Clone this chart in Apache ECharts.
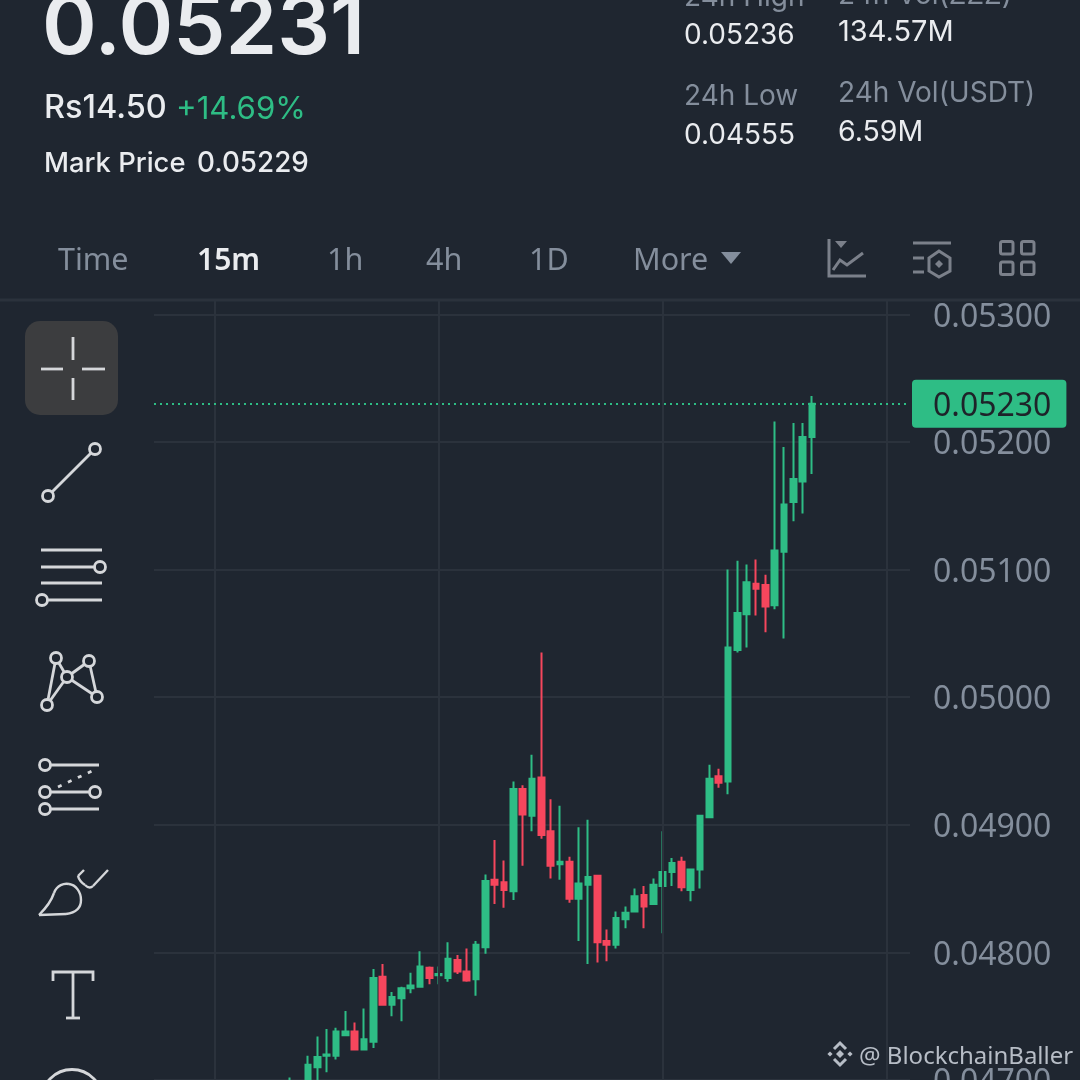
<!DOCTYPE html>
<html><head><meta charset="utf-8">
<style>html,body{margin:0;padding:0;background:#1f2630}#c{width:1080px;height:1080px}</style>
<script src="https://cdn.jsdelivr.net/npm/echarts@6/dist/echarts.min.js"></script></head>
<body><div id="c"></div>
<script>
const lastPrice = 0.05230;
const yTicks = [0.047, 0.053];
const gridSlots = [6, 30, 54, 78];
const leadingEmptySlots = 14;
const trailingEmptySlots = 10;
const opens  = [0.04688,0.04690,0.04691,0.04710,0.04719,0.04719,0.04735,0.04738,0.04724,0.04730,0.04781,0.04759,0.04764,0.04772,0.04773,0.04788,0.04782,0.04780,0.04794,0.04785,0.04779,0.04804,0.04857,0.04855,0.04848,0.04928,0.04907,0.04937,0.04895,0.04869,0.04871,0.04842,0.04853,0.04860,0.04809,0.04806,0.04826,0.04832,0.04845,0.04838,0.04852,0.04863,0.04871,0.04849,0.04865,0.04906,0.04938,0.04934,0.05037,0.05065,0.05089,0.05088,0.05072,0.05114,0.05153,0.05169,0.05204];
const closes = [0.04692,0.04696,0.04712,0.04718,0.04720,0.04738,0.04738,0.04724,0.04732,0.04780,0.04759,0.04765,0.04772,0.04774,0.04789,0.04780,0.04783,0.04795,0.04785,0.04778,0.04806,0.04856,0.04853,0.04849,0.04928,0.04908,0.04936,0.04892,0.04868,0.04871,0.04842,0.04854,0.04859,0.04808,0.04806,0.04827,0.04831,0.04844,0.04836,0.04853,0.04863,0.04870,0.04851,0.04865,0.04907,0.04936,0.04933,0.05039,0.05066,0.05090,0.05085,0.05071,0.05115,0.05151,0.05171,0.05204,0.05230];
const lows   = [0.04685,0.04686,0.04684,0.04698,0.04706,0.04716,0.04735,0.04724,0.04724,0.04725,0.04759,0.04750,0.04746,0.04768,0.04773,0.04775,0.04775,0.04777,0.04783,0.04777,0.04766,0.04799,0.04838,0.04835,0.04841,0.04868,0.04895,0.04889,0.04858,0.04857,0.04839,0.04809,0.04791,0.04792,0.04793,0.04803,0.04819,0.04832,0.04819,0.04838,0.04815,0.04852,0.04848,0.04840,0.04850,0.04906,0.04929,0.04924,0.05035,0.05039,0.05064,0.05051,0.05069,0.05046,0.05138,0.05144,0.05175];
const highs  = [0.04702,0.04699,0.04719,0.04734,0.04740,0.04741,0.04754,0.04745,0.04756,0.04787,0.04791,0.04769,0.04773,0.04784,0.04801,0.04789,0.04789,0.04808,0.04798,0.04803,0.04809,0.04861,0.04888,0.04872,0.04934,0.04931,0.04955,0.05035,0.04920,0.04915,0.04875,0.04898,0.04904,0.04860,0.04818,0.04832,0.04836,0.04850,0.04852,0.04858,0.04895,0.04874,0.04875,0.04865,0.04907,0.04947,0.04944,0.05100,0.05107,0.05104,0.05108,0.05096,0.05216,0.05196,0.05215,0.05215,0.05236];
const headline = {price:"0.05231", fiat:"Rs14.50", change:"+14.69%", markLabel:"Mark Price", mark:"0.05229"};
const stats = [["24h High","0.05236",684,7,45,28],["24h Vol(ZZZ)","134.57M",838,5,42,29],["24h Low","0.04555",684,106,145,28],["24h Vol(USDT)","6.59M",838,103,142,28.5]];
const tabs = [["Time",58],["15m",197],["1h",327],["4h",426],["1D",529],["More",633]];

const BG='#1f2630',LINE='#2b323c',UP='#2ebd85',DOWN='#f6465d',GREY='#848e9c',WHITE='#eaecef',ICON='#d5d7da',ICON2='#7b808a';
const SANS='"Noto Sans"', HEAD='Inter';

const rows = opens.map((o,i)=>[o,closes[i],lows[i],highs[i]]);
const blank = n => Array.from({length:n},()=>'-');
const candleData = blank(leadingEmptySlots).concat(rows, blank(trailingEmptySlots));
const closeLine = blank(leadingEmptySlots).concat(closes, blank(trailingEmptySlots));
const categories = candleData.map((_,i)=>String(i));

const txt=(t,x,y,size,fill,weight,family)=>({type:'text',silent:true,z:20,style:{text:t,x,y,fontSize:size,fill,fontWeight:weight||400,fontFamily:family||HEAD,textAlign:'left',textVerticalAlign:'bottom'}});
const stroke=(c,w)=>({stroke:c,lineWidth:w,fill:null,lineCap:'butt'});
const ln=(x1,y1,x2,y2,c=ICON,w=2.8,extra={})=>({type:'line',silent:true,z:20,shape:{x1,y1,x2,y2},style:Object.assign(stroke(c,w),extra)});
const circ=(cx,cy,r=5.5,c=ICON)=>({type:'circle',silent:true,z:21,shape:{cx,cy,r},style:{stroke:c,lineWidth:2.8,fill:BG}});
const bez=(x1,y1,cpx1,cpy1,cpx2,cpy2,x2,y2,w=2.4)=>({type:'bezierCurve',silent:true,z:20,shape:{x1,y1,cpx1,cpy1,cpx2,cpy2,x2,y2},style:stroke(ICON,w)});

const g=[];
g.push(ln(0,300,1080,300,LINE,3));
g.push(txt(headline.price,42,71,83,'#eaecef',600));
g.push(txt(headline.fiat,44,125,32.5,WHITE,500));
g.push(txt(headline.change,176,125,31.2,UP,400));
g.push(txt(headline.markLabel,44,177,27.4,WHITE,500));
g.push(txt(headline.mark,197,178,27.8,WHITE,500));
stats.forEach(s=>{g.push(txt(s[0],s[2],s[3]+5,28,GREY,400));g.push(txt(s[1],s[2],s[4]+5,s[5],WHITE,400));});
tabs.forEach((t,i)=>g.push(txt(t[0],t[1],i===1?276:277,i===1?30:30.5,i===1?WHITE:GREY,i===1?600:400,SANS)));
g.push({type:'polygon',silent:true,z:20,shape:{points:[[721,252],[741,252],[731,264]]},style:{fill:GREY}});
g.push({type:'polyline',silent:true,z:20,shape:{points:[[829,239],[829,276],[866,276]]},style:stroke(ICON2,3)});
g.push({type:'polygon',silent:true,z:20,shape:{points:[[835,241],[847,241],[841,248]]},style:{fill:ICON2}});
g.push({type:'polyline',silent:true,z:20,shape:{points:[[833,270],[840,260],[847,265],[863,253]]},style:stroke(ICON2,3)});
g.push(ln(913,243,951,243,ICON2,3),ln(913,258,924,258,ICON2,3),ln(913,272,924,272,ICON2,3));
g.push({type:'polygon',silent:true,z:20,shape:{points:[[939,251],[950,258],[950,271],[939,277],[929,271],[929,258]]},style:stroke(ICON2,3)});
g.push({type:'polygon',silent:true,z:20,shape:{points:[[939,260],[943,264],[939,268],[935,264]]},style:{fill:ICON2}});
[[1000.5,241.5],[1021.5,241.5],[1000.5,262],[1021.5,262]].forEach(p=>g.push({type:'rect',silent:true,z:20,shape:{x:p[0],y:p[1],width:12.5,height:12.5,r:2},style:stroke(ICON2,3)}));
g.push({type:'rect',silent:true,z:19,shape:{x:25,y:321,width:93,height:94,r:15},style:{fill:'#3c3d3f'}});
g.push(ln(73,337,73,360),ln(73,378,73,400),ln(41,369,63,369),ln(82,369,105,369));
g.push(ln(48,496,95,449),circ(95,449),circ(48,496));
g.push(ln(41,550,102,550),ln(41,567,95,567),ln(41,583,102,583),ln(48,600,102,600),circ(100,567),circ(42,600));
g.push(ln(56,658,47,705),ln(56,658,67,677),ln(67,677,47,705),ln(67,677,89,661),ln(67,677,97,697),ln(89,661,97,697));
[[56,658],[89,661],[67,677],[97,697],[47,705]].forEach(p=>g.push(circ(p[0],p[1])));
g.push(ln(45,765,99,765),ln(45,792,95,792),ln(45,809,99,809),ln(58,787,94,770,ICON,2.8,{lineDash:[4,7]}));
g.push(circ(45,765),circ(45,792),circ(95,792),circ(45,809));
g.push(bez(39,915,46,908,51,902,54,893),bez(54,893,57,885,64,883,69,884),bez(69,884,76,885,81,892,81,900),bez(81,900,81,909,74,913,66,914),ln(66,914,39,915,ICON,2.4));
g.push(ln(84,870,78,876,ICON,2.4),bez(78,876,79,880,82,883,85,885),bez(85,885,88,888,91,888,93,886),ln(93,886,108,870,ICON,2.4));
g.push({type:'polyline',silent:true,z:20,shape:{points:[[53,981],[53,972],[93,972],[93,981]]},style:stroke(ICON,2.8)});
g.push(ln(73,972,73,1018),ln(66,1018,80,1018));
g.push({type:'circle',silent:true,z:20,shape:{cx:72,cy:1100,r:30.5},style:stroke(ICON,2.8)});
const WM='#b7bdc6';
[[840,1054,4],[830,1054,2.6],[850,1054,2.6]].forEach(p=>g.push({type:'polygon',silent:true,z:20,shape:{points:[[p[0],p[1]-p[2]],[p[0]+p[2],p[1]],[p[0],p[1]+p[2]],[p[0]-p[2],p[1]]]},style:{fill:WM}}));
g.push({type:'polyline',silent:true,z:20,shape:{points:[[834,1049],[840,1043],[846,1049]]},style:stroke(WM,3)});
g.push({type:'polyline',silent:true,z:20,shape:{points:[[834,1059],[840,1065],[846,1059]]},style:stroke(WM,3)});
g.push(txt('@ BlockchainBaller',859,1069,24,WM,400,SANS));

const chart=echarts.init(document.getElementById('c'),null,{renderer:'canvas',width:1080,height:1080});
chart.setOption({
  animation:false,backgroundColor:BG,
  grid:{left:154,right:170,top:300,bottom:0,containLabel:false,outerBoundsMode:'none'},
  xAxis:{type:'category',data:categories,boundaryGap:true,axisLine:{show:false},axisTick:{show:false},axisLabel:{show:false},splitLine:{show:false}},
  yAxis:{type:'value',position:'right',min:yTicks[0],max:0.053113,interval:0.001,scale:true,
    axisLine:{show:false},axisTick:{show:false},
    axisLabel:{margin:23,color:GREY,fontSize:32,fontFamily:SANS,showMaxLabel:false,showMinLabel:true,formatter:v=>'{t|'+v.toFixed(5)+'}',hideOverlap:false,
      rich:{t:{color:GREY,fontSize:32,fontFamily:SANS,padding:[6,0,0,0]}}},
    splitLine:{show:true,showMaxLine:false,lineStyle:{color:LINE,width:2}}},
  series:[
    {type:'line',data:closeLine,z:1,silent:true,showSymbol:false,symbol:'none',lineStyle:{opacity:0},
      markLine:{silent:true,symbol:'none',animation:false,precision:5,
        data:gridSlots.map(s=>({xAxis:String(s),lineStyle:{color:LINE,width:2,type:'solid'},label:{show:false}})).concat([
          {yAxis:lastPrice,lineStyle:{color:UP,width:2,type:[2,4]},
           label:{show:true,position:'end',distance:2,formatter:()=>'{t|'+lastPrice.toFixed(5)+'}',backgroundColor:UP,padding:[5,15,5,21],borderRadius:4,
             rich:{t:{color:'#1e2329',fontSize:32,fontFamily:SANS,padding:[6,0,0,0]}}}}])}},
    {type:'candlestick',z:3,data:candleData,barWidth:6,clip:true,
      itemStyle:{color:UP,color0:DOWN,borderColor:UP,borderColor0:DOWN,borderWidth:2}}
  ],
  graphic:g
});
</script></body></html>
